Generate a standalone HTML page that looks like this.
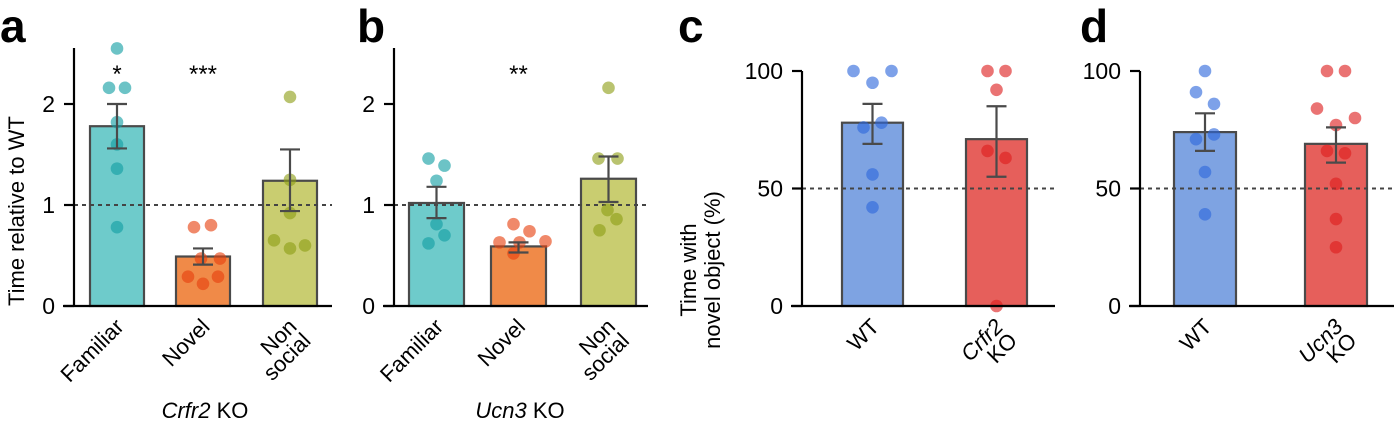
<!DOCTYPE html>
<html><head><meta charset="utf-8"><style>
html,body{margin:0;padding:0;background:#fff}
svg{display:block;font-family:"Liberation Sans",sans-serif}
</style></head><body>
<svg id="fig" width="1395" height="429" viewBox="0 0 1395 429" xmlns="http://www.w3.org/2000/svg">
<text x="0" y="42" font-size="46" font-weight="bold">a</text>
<text x="357" y="42" font-size="46" font-weight="bold">b</text>
<text x="678" y="42" font-size="46" font-weight="bold">c</text>
<text x="1080" y="42" font-size="46" font-weight="bold">d</text>
<text transform="translate(24,306) rotate(-90)" font-size="22">Time relative to WT</text>
<text transform="translate(696,270) rotate(-90)" font-size="22" text-anchor="middle">Time with</text>
<text transform="translate(720,270) rotate(-90)" font-size="22" text-anchor="middle">novel object (%)</text>
<text x="205" y="418" font-size="22" text-anchor="middle"><tspan font-style="italic">Crfr2</tspan> KO</text>
<text x="520" y="418" font-size="22" text-anchor="middle"><tspan font-style="italic">Ucn3</tspan> KO</text>
</svg>
<script>
// Panel a data
const catsAB = ["Familiar","Novel","Non social"];
const aMeans = [1.78, 0.49, 1.24];
const aLo = [1.56, 0.41, 0.94];
const aHi = [2.00, 0.57, 1.55];
const aDotsFam = [2.55, 2.16, 2.16, 1.82, 1.60, 1.36, 0.78];
const aDotsNov = [0.78, 0.80, 0.47, 0.47, 0.29, 0.29, 0.22];
const aDotsNon = [2.07, 1.25, 0.92, 0.65, 0.60, 0.57];
// Panel b data
const bMeans = [1.02, 0.59, 1.26];
const bLo = [0.87, 0.53, 1.03];
const bHi = [1.18, 0.63, 1.48];
const bDotsFam = [1.46, 1.39, 1.24, 0.81, 0.70, 0.62];
const bDotsNov = [0.81, 0.74, 0.63, 0.63, 0.64, 0.52];
const bDotsNon = [2.16, 1.46, 1.46, 0.95, 0.86, 0.75];
const ticksAB = [0, 1, 2];
// Panel c data
const catsCD = ["WT","KO"];
const cMeans = [78, 71];
const cLo = [69, 55];
const cHi = [86, 85];
const cDotsWT = [100, 100, 95, 76, 78, 56, 42];
const cDotsKO = [100, 100, 92, 66, 63, 0];
// Panel d data
const dMeans = [74, 69];
const dLo = [66, 61];
const dHi = [82, 76];
const dDotsWT = [100, 91, 86, 71, 73, 57, 39];
const dDotsKO = [100, 100, 84, 80, 77, 66, 65, 52, 37, 25];
const ticksCD = [0, 50, 100];

const svg = document.getElementById('fig');
const NS = 'http://www.w3.org/2000/svg';
function mk(tag, at, parent){ const e=document.createElementNS(NS,tag); for(const k in at) e.setAttribute(k,at[k]); (parent||svg).appendChild(e); return e; }

// dot x-offset patterns (jitter layout, not data)
const offs = {
 aF:[0,-8,8,0,0,0,0], aN:[-9,8,-2,17,-15,15,0], aO:[0,0,0,-16,15,0],
 bF:[-8,8,0,0,8,-8], bN:[-5,11,-19,1,27,-5], bO:[0,-10,9,-1,8,-9],
 cW:[-19,19,0,-9,9,0,0], cK:[-9,9,0,-9,9,0],
 dW:[0,-9,9,-9,9,0,0], dK:[-9,9,-19,19,0,-9,9,0,0,0]
};

function panel(o){
  const y = v => o.y0 - (v/o.vmax)*(o.y0-o.yTop);
  const g = mk('g',{});
  
  
  // bars
  o.means.forEach((m,i)=>{
    const r = mk('rect',{x:o.bx[i],y:y(m),width:o.bw,height:o.y0-y(m),fill:o.fills[i],stroke:'#4a4a4a','stroke-width':2.2},g);
    
    
  });
  // dashed reference line
  const dl = mk('line',{x1:o.ax,x2:o.xEnd,y1:y(o.ref),y2:y(o.ref),stroke:'#444','stroke-width':2,'stroke-dasharray':'4,4'},g);
  
  
  // dots
  o.dots.forEach((arr,i)=>{
    const cx = o.bx[i]+o.bw/2;
    arr.forEach((v,j)=>{
      const c = mk('circle',{cx:cx+(o.offs[i][j]||0),cy:y(v),r:6.3,fill:o.dotc[i],'fill-opacity':0.62},g);
      
      
    });
  });
  // error bars
  o.means.forEach((m,i)=>{
    const cx = o.bx[i]+o.bw/2;
    const p = mk('path',{d:`M${cx},${y(o.lo[i])}V${y(o.hi[i])}M${cx-10},${y(o.lo[i])}H${cx+10}M${cx-10},${y(o.hi[i])}H${cx+10}`,stroke:'#4a4a4a','stroke-width':2.2,fill:'none'},g);
    
    
  });
  // axes
  const ya = mk('line',{x1:o.ax,x2:o.ax,y1:o.axTop,y2:o.y0,stroke:'#000','stroke-width':2.2},g);
  
  
  const xa = mk('line',{x1:o.ax-11,x2:o.xEnd,y1:o.y0,y2:o.y0,stroke:'#000','stroke-width':2.2},g);
  
  
  o.ticks.forEach(t=>{
    mk('line',{x1:o.ax-10,x2:o.ax,y1:y(t),y2:y(t),stroke:'#000','stroke-width':2.2},g);
    const tl = mk('text',{x:o.ax-19,y:y(t)+8,'font-size':23,'text-anchor':'end'},g);
    tl.textContent = t;
    
    
  });
  // x labels
  o.labels.forEach((lab,i)=>{
    const cx = o.bx[i]+o.bw/2+8;
    const lines = lab;
    lines.forEach((ln,k)=>{
      const tx = cx + k*14, ty = o.y0+22 + k*14;
      const t = mk('text',{transform:`translate(${tx},${ty}) rotate(-45)`,'font-size':22,'text-anchor':'end'},g);
      
      
      if(ln.it){ t.setAttribute('font-style','italic'); }
      t.textContent = ln.t;
    });
  });
  (o.stars||[]).forEach(s=>{
    const t = mk('text',{x:o.bx[s.i]+o.bw/2,y:s.y,'font-size':24,'text-anchor':'middle'},g);
    t.textContent = s.t;
    
    
  });
}

const cols3 = ['#6ecbcb','#f08a48','#c9cd70'];
const dcols3 = ['#119ea3','#e6400f','#8e9e16'];
const cols2 = ['#7ea3e2','#e65f5b'];
const dcols2 = ['#2d68dc','#dd1d1d'];
const lab3 = [[{t:'Familiar'}],[{t:'Novel'}],[{t:'Non'},{t:'social'}]];

panel({name:'panel-a',keys:['familiar','novel','nonsocial'],means:aMeans,lo:aLo,hi:aHi,dots:[aDotsFam,aDotsNov,aDotsNon],offs:[offs.aF,offs.aN,offs.aO],
  bx:[90,176,263],bw:54,ax:74,xEnd:332,y0:306,yTop:104,vmax:2,axTop:48,ref:1,ticks:ticksAB,fills:cols3,dotc:dcols3,labels:lab3,
  stars:[{i:0,t:'*',y:82},{i:1,t:'***',y:82}]});
panel({name:'panel-b',keys:['familiar','novel','nonsocial'],means:bMeans,lo:bLo,hi:bHi,dots:[bDotsFam,bDotsNov,bDotsNon],offs:[offs.bF,offs.bN,offs.bO],
  bx:[409,491,581],bw:55,ax:394,xEnd:648,y0:306,yTop:104,vmax:2,axTop:48,ref:1,ticks:ticksAB,fills:cols3,dotc:dcols3,labels:lab3,
  stars:[{i:1,t:'**',y:82}]});
panel({name:'panel-c',keys:['wt','crfr2-ko'],means:cMeans,lo:cLo,hi:cHi,dots:[cDotsWT,cDotsKO],offs:[offs.cW,offs.cK],
  bx:[842,966],bw:61,ax:802,xEnd:1055,y0:306,yTop:71,vmax:100,axTop:71,ref:50,ticks:ticksCD,fills:cols2,dotc:dcols2,
  labels:[[{t:'WT'}],[{t:'Crfr2',it:true},{t:'KO'}]]});
panel({name:'panel-d',keys:['wt','ucn3-ko'],means:dMeans,lo:dLo,hi:dHi,dots:[dDotsWT,dDotsKO],offs:[offs.dW,offs.dK],
  bx:[1174,1305],bw:62,ax:1140,xEnd:1394,y0:306,yTop:71,vmax:100,axTop:71,ref:50,ticks:ticksCD,fills:cols2,dotc:dcols2,
  labels:[[{t:'WT'}],[{t:'Ucn3',it:true},{t:'KO'}]]});
</script>
</body></html>
